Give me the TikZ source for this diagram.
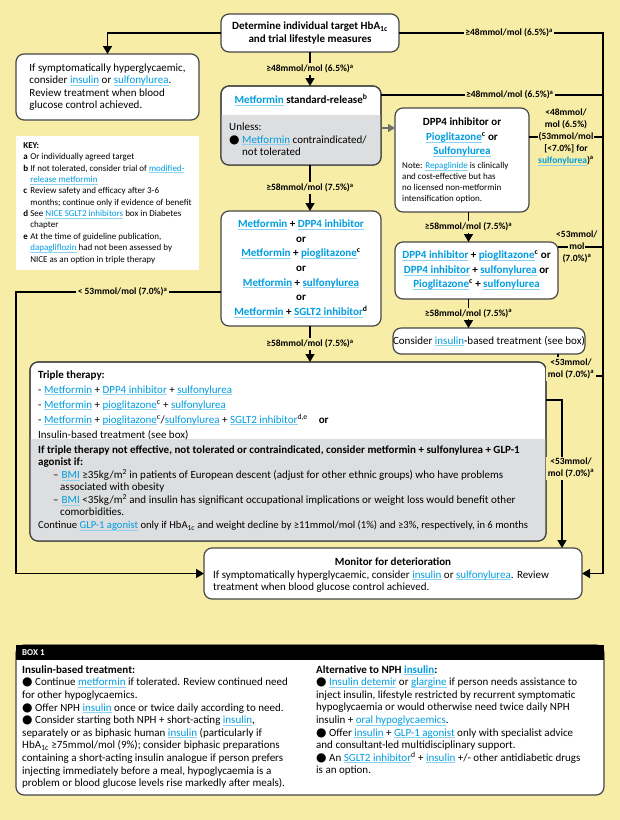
\documentclass[tikz,border=0pt]{standalone}
\usepackage{fontspec}
\setmainfont{Carlito}
\newfontfamily\dejavu{DejaVu Sans}
\usetikzlibrary{arrows.meta,positioning}

\definecolor{bg}{RGB}{247,237,166}
\definecolor{boxgrey}{RGB}{221,222,223}
\definecolor{edge}{RGB}{70,70,70}
\definecolor{linkblue}{RGB}{0,157,224}
\definecolor{arrowgrey}{RGB}{110,110,110}

\newcommand\lk[1]{{\color{linkblue}\setbox0=\hbox{#1}\rlap{\color{linkblue!45}\rule[-1.7pt]{\wd0}{0.5pt}}\box0}}
\newcommand\dotb{{\dejavu\fontsize{12}{10}\selectfont ●}}
\newcommand\onbg[1]{{\setlength{\fboxsep}{1pt}\colorbox{bg}{#1}}}
\newcommand\kl[1]{\makebox[7pt][l]{\textbf{#1}}}
\newcommand\bodyfont{\fontsize{11}{12.5}\selectfont}

\begin{document}
\begin{tikzpicture}[x=1pt, y=-1pt,
  box/.style = {draw=edge, line width=1.2pt, fill=white, rounded corners=8pt, inner sep=0pt, outer sep=0pt},
  txt/.style = {font=\bodyfont, inner sep=0pt, align=left},
  lbl/.style = {fill=bg, inner sep=1.5pt, align=center, font=\bfseries\fontsize{9.5}{12}\selectfont},
  conn/.style = {line width=1.6pt},
  arr/.style = {conn, -{Triangle[width=9pt,length=8pt]}}]

  \fill[bg] (0,0) rectangle (620,820);
  \useasboundingbox (0,0) rectangle (620,820);

  % first steps
  \node[box, minimum width=178pt, minimum height=38pt, align=center, font=\bfseries\bodyfont] (target) at (310,33) {Determine individual target HbA\textsubscript{1c}\\and trial lifestyle measures};
  \node[box, txt, minimum width=183pt, minimum height=66pt] (sympt) at (107.5,87) {If symptomatically hyperglycaemic,\\consider \lk{insulin} or \lk{sulfonylurea}.\\Review treatment when blood\\glucose control achieved.};

  % metformin, white top and grey bottom
  \node[box, minimum width=160pt, minimum height=79pt] (metf) at (301,125.5) {};
  \begin{scope}
    \clip[rounded corners=8pt] (metf.south west) rectangle (metf.north east);
    \fill[boxgrey] (metf.south west) rectangle (metf.east |- 0,115);
  \end{scope}
  \draw[draw=edge, line width=1.2pt, rounded corners=8pt] (metf.south west) rectangle (metf.north east);
  \node[txt, font=\bfseries\bodyfont] (metft) at (301,99.5) {\lk{Metformin} standard-release\textsuperscript{b}};
  \node[txt, anchor=west] (metfu) at (229,139.5) {Unless:\\\dotb\ \lk{Metformin} contraindicated/\\\hspace*{13pt}not tolerated};

  % second drug instead of metformin
  \node[box, minimum width=134pt, minimum height=104pt] (dpp) at (462,160) {};
  \node[txt, align=center, font=\bfseries\fontsize{11}{14.5}\selectfont] (dppt) at (462,137.5) {DPP4 inhibitor or\\\lk{Pioglitazone}\textsuperscript{c} or\\\lk{Sulfonylurea}};
  \node[txt, anchor=west, font=\fontsize{9}{11}\selectfont] (dppn) at (402,182.5) {Note: \lk{Repaglinide} is clinically\\and cost-effective but has\\no licensed non-metformin\\intensification option.};

  % key
  \node[fill=white, txt, minimum width=183pt, minimum height=134pt, font=\fontsize{9}{11.4}\selectfont] (key) at (107.5,203) {\textbf{KEY:}\\
    \kl{a}Or individually agreed target\\
    \kl{b}If not tolerated, consider trial of \lk{modified-}\\
    \hspace*{7pt}\lk{release metformin}\\
    \kl{c}Review safety and efficacy after 3-6\\
    \hspace*{7pt}months; continue only if evidence of benefit\\
    \kl{d}See \lk{NICE SGLT2 inhibitors} box in Diabetes\\
    \hspace*{7pt}chapter\\
    \kl{e}At the time of guideline publication,\\
    \hspace*{7pt}\lk{dapagliflozin} had not been assessed by\\
    \hspace*{7pt}NICE as an option in triple therapy};

  % dual therapy
  \node[box, minimum width=160pt, minimum height=115pt, align=center, font=\bfseries\fontsize{11}{14.7}\selectfont] (combos) at (301,268.5) {\lk{Metformin} + \lk{DPP4 inhibitor}\\or\\\lk{Metformin} + \lk{pioglitazone}\textsuperscript{c}\\or\\\lk{Metformin} + \lk{sulfonylurea}\\or\\\lk{Metformin} + \lk{SGLT2 inhibitor}\textsuperscript{d}};
  \node[box, minimum width=163pt, minimum height=57pt, align=center, font=\bfseries\fontsize{11}{14.5}\selectfont] (dual) at (476.5,270.5) {\lk{DPP4 inhibitor} + \lk{pioglitazone}\textsuperscript{c} or\\\lk{DPP4 inhibitor} + \lk{sulfonylurea} or\\\lk{Pioglitazone}\textsuperscript{c} + \lk{sulfonylurea}};
  \node[box, txt, align=center, minimum width=188pt, minimum height=26pt] (insb) at (489,341) {Consider \lk{insulin}-based treatment (see box)};

  % triple therapy, white top and grey bottom
  \node[box, minimum width=516pt, minimum height=179pt] (triple) at (288,451.5) {};
  \begin{scope}
    \clip[rounded corners=8pt] (triple.south west) rectangle (triple.north east);
    \fill[boxgrey] (triple.south west) rectangle (triple.east |- 0,439);
  \end{scope}
  \draw[draw=edge, line width=1.2pt, rounded corners=8pt] (triple.south west) rectangle (triple.north east);
  \node[txt, anchor=west, font=\fontsize{11}{15}\selectfont] (tript) at (38,405) {\textbf{Triple therapy:}\\
    - \lk{Metformin} + \lk{DPP4 inhibitor} + \lk{sulfonylurea}\\
    - \lk{Metformin} + \lk{pioglitazone}\textsuperscript{c} + \lk{sulfonylurea}\\
    - \lk{Metformin} + \lk{pioglitazone}\textsuperscript{c}/\lk{sulfonylurea} + \lk{SGLT2 inhibitor}\textsuperscript{d,e}\quad\textbf{or}\\
    Insulin-based treatment (see box)};
  \node[txt, anchor=west] (tripg) at (38,488) {\textbf{If triple therapy not effective, not tolerated or contraindicated, consider metformin + sulfonylurea + GLP-1}\\
    \textbf{agonist if:}\\
    \hspace*{15pt}{\color{black}–}\hspace{3pt}\lk{BMI} ≥35kg/m\textsuperscript{2} in patients of European descent (adjust for other ethnic groups) who have problems\\
    \hspace*{22pt}associated with obesity\\
    \hspace*{15pt}{\color{black}–}\hspace{3pt}\lk{BMI} <35kg/m\textsuperscript{2} and insulin has significant occupational implications or weight loss would benefit other\\
    \hspace*{22pt}comorbidities.\\
    {\fontsize{10.6}{12.5}\selectfont Continue \lk{GLP-1 agonist} only if HbA\textsubscript{1c} and weight decline by ≥11mmol/mol (1\%) and ≥3\%, respectively, in 6 months}};

  % monitor
  \node[box, minimum width=378pt, minimum height=51pt] (monitor) at (393,573.5) {};
  \node[txt, font=\bfseries\bodyfont] (mont) at (393,562) {Monitor for deterioration};
  \node[txt, anchor=west] (monx) at (213,581.5) {If symptomatically hyperglycaemic, consider \lk{insulin} or \lk{sulfonylurea}. Review\\treatment when blood glucose control achieved.};

  % box 1
  \node[box, minimum width=588pt, minimum height=150pt] (box1) at (310,720) {};
  \fill[black] (box1.north west) rectangle (box1.east |- 0,660);
  \node[txt, anchor=west, text=white, font=\bfseries\fontsize{9}{11}\selectfont] (box1h) at (22,652.5) {BOX 1};
  \node[txt, anchor=west, font=\fontsize{11}{12.6}\selectfont] (box1l) at (22,727) {\textbf{Insulin-based treatment:}\\
    \dotb\ Continue \lk{metformin} if tolerated. Review continued need\\
    for other hypoglycaemics.\\
    \dotb\ Offer NPH \lk{insulin} once or twice daily according to need.\\
    \dotb\ Consider starting both NPH + short-acting \lk{insulin},\\
    separately or as biphasic human \lk{insulin} (particularly if\\
    HbA\textsubscript{1c} ≥75mmol/mol (9\%); consider biphasic preparations\\
    containing a short-acting insulin analogue if person prefers\\
    injecting immediately before a meal, hypoglycaemia is a\\
    problem or blood glucose levels rise markedly after meals).};
  \node[txt, anchor=west, font=\fontsize{11}{12.6}\selectfont] (box1r) at (316,720.5) {\textbf{Alternative to NPH \lk{insulin}:}\\
    \dotb\ \lk{Insulin detemir} or \lk{glargine} if person needs assistance to\\
    inject insulin, lifestyle restricted by recurrent symptomatic\\
    hypoglycaemia or would otherwise need twice daily NPH\\
    insulin + \lk{oral hypoglycaemics}.\\
    \dotb\ Offer \lk{insulin} + \lk{GLP-1 agonist} only with specialist advice\\
    and consultant-led multidisciplinary support.\\
    \dotb\ An \lk{SGLT2 inhibitor}\textsuperscript{d} + \lk{insulin} +/- other antidiabetic drugs\\
    is an option.};

  % connectors
  \coordinate (rail) at (603,573.5);
  \coordinate (lrail) at (16,0);
  \coordinate (m1) at ([yshift=-9pt]metf.north east);
  \coordinate (m2) at ([yshift=-2.5pt]metf.east);
  \coordinate (d1) at ([yshift=23pt]dpp.east);
  \coordinate (d2) at ([xshift=6.5pt]dpp.south);
  \coordinate (c1) at ([yshift=-23.5pt]combos.west);
  \coordinate (u1) at ([yshift=23.5pt]dual.east);
  \coordinate (i1) at ([xshift=69pt]insb.south);
  \coordinate (i2) at ([xshift=69pt,yshift=-22pt]insb.south);
  \coordinate (t1) at ([yshift=51.5pt]triple.east);
  \coordinate (t2) at ([xshift=169pt]monitor.north);

  \draw[arr] (target.east) -- node[lbl, pos=0.54] (l1) {≥48mmol/mol (6.5\%)\textsuperscript{a}} (target.east -| rail) -- (rail) -- (monitor.east);
  \draw[arr] (target.west) -| (sympt.north);
  \draw[arr] (target.south) -- node[lbl] (l2) {≥48mmol/mol (6.5\%)\textsuperscript{a}} (target.south |- metf.north);
  \draw[conn] (m1) -- node[lbl, pos=0.58] (l3) {≥48mmol/mol (6.5\%)\textsuperscript{a}} (m1 -| rail);
  \draw[line width=1.4pt, draw=arrowgrey, -{Triangle[width=8pt,length=7pt]}] (m2) -- (m2 -| dpp.west);
  \draw[conn] (d1) -- node[lbl, fill=none] (l4) {<48mmol/\\mol (6.5\%)\\\onbg{(53mmol/mol}\\{[}<7.0\%{]} for\\\lk{sulfonylurea})\textsuperscript{a}} (d1 -| rail);
  \draw[arr] (target.south |- metf.south) -- node[lbl] (l5) {≥58mmol/mol (7.5\%)\textsuperscript{a}} (target.south |- combos.north);
  \draw[arr] (c1) -- node[lbl, pos=0.48] (l6) {< 53mmol/mol (7.0\%)\textsuperscript{a}} (c1 -| lrail) |- (monitor.west);
  \draw[arr] (target.south |- combos.south) -- node[lbl] (l7) {≥58mmol/mol (7.5\%)\textsuperscript{a}} (target.south |- triple.north);
  \draw[arr] (d2) -- node[lbl] (l8) {≥58mmol/mol (7.5\%)\textsuperscript{a}} (d2 |- dual.north);
  \draw[arr] (d2 |- dual.south) -- node[lbl] (l9) {≥58mmol/mol (7.5\%)\textsuperscript{a}} (d2 |- insb.north);
  \draw[conn] (u1) -- node[lbl, fill=none, pos=0.42] (l10) {<53mmol/\\\onbg{mol}\\(7.0\%)\textsuperscript{a}} (u1 -| rail);
  \draw[conn] (i1) -- (i2) -- node[lbl, at start, xshift=13pt, yshift=7pt] (l11) {<53mmol/\\mol (7.0\%)\textsuperscript{a}} (i2 -| rail);
  \draw[arr] (t1) -| node[lbl, pos=0.73, xshift=9pt] (l12) {<53mmol/\\mol (7.0\%)\textsuperscript{a}} (t2);
\end{tikzpicture}
\end{document}
